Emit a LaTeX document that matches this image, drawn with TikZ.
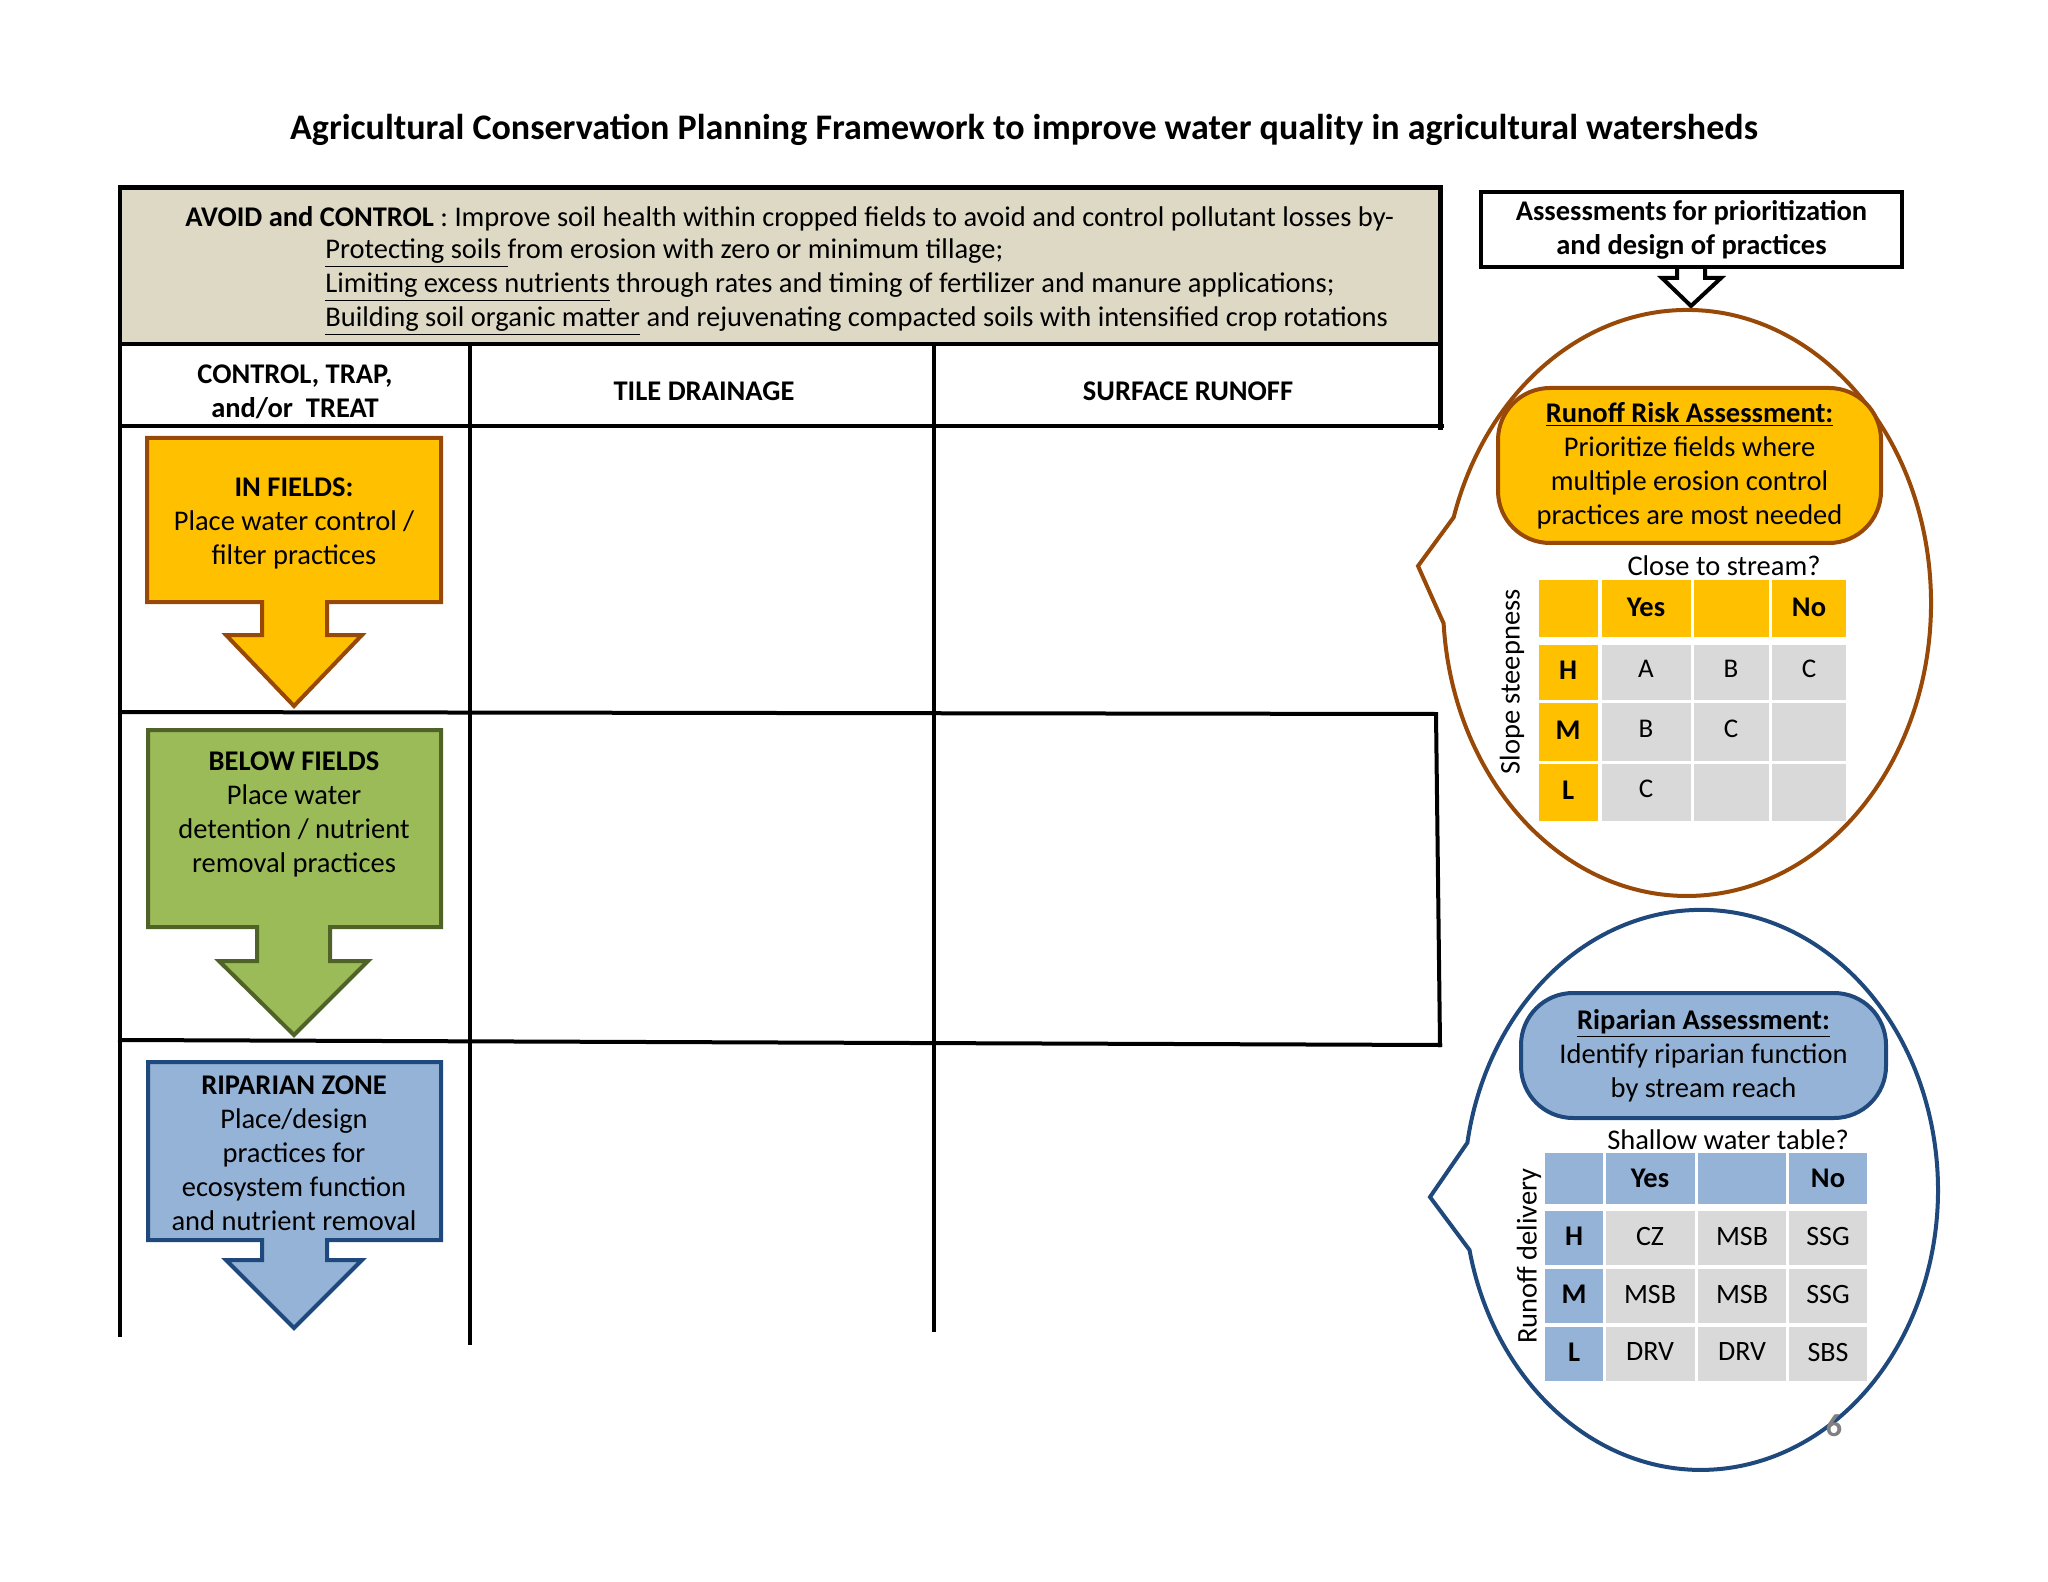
\documentclass[tikz,border=0pt]{standalone}
\usepackage{fontspec}
\setmainfont{Carlito}
\usepackage{tikz}
\usetikzlibrary{positioning}

\definecolor{goldfill}{HTML}{FFC000}
\definecolor{golddraw}{HTML}{984807}
\definecolor{greenfill}{HTML}{9BBB59}
\definecolor{greendraw}{HTML}{4F6228}
\definecolor{bluefill}{HTML}{95B3D7}
\definecolor{bluedraw}{HTML}{1F497D}
\definecolor{bandfill}{HTML}{DDD9C4}
\definecolor{cellgray}{HTML}{D9D9D9}

\begin{document}
\begin{tikzpicture}[
x=0.5pt, y=-0.5pt,
    T/.style = {font=\fontsize{14.25}{17}\selectfont, align=center, inner sep=0pt},% plain text
    B/.style = {T, font=\fontsize{14.25}{17}\selectfont\bfseries},% bold text
    L/.style = {T, anchor=west},% left aligned line in the band
    C/.style = {T, font=\fontsize{13.5}{15}\selectfont},% table cells
    grid/.style = {line width=2pt, line cap=rect},
    arrowbox/.style = {line width=2pt, line join=miter},
    bubble/.style = {line width=2pt, line join=miter},
    pill/.style = {draw, line width=2pt, rounded corners=26pt, align=center,
                   inner sep=0pt, font=\fontsize{14.25}{17}\selectfont},
                        ]
\useasboundingbox (0,0) rectangle (2048,1582);
\node[T, font=\fontsize{18}{21}\selectfont\bfseries] (title) at (1024,130)
  {Agricultural Conservation Planning Framework to improve water quality in agricultural watersheds};

% avoid and control band
\fill[bandfill] (120,188) rectangle (1440,344);
\node[L] (band1) at (185,219)
  {\textbf{AVOID and CONTROL} : Improve soil health within cropped fields to avoid and control pollutant losses by-};
\node[L] (band2) at (325,253) {\underline{Protecting soils }from erosion with zero or minimum tillage;};
\node[L] (band3) at (325,287) {\underline{Limiting excess nutrients} through rates and timing of fertilizer and manure applications;};
\node[L] (band4) at (325,321) {\underline{Building soil organic matter} and rejuvenating compacted soils with intensified crop rotations};

% table lines
\draw[grid, line width=2.5pt] (120,188) -- (1440,188) -- (1440,428);
\draw[grid] (120,188) -- (120,1335);
\draw[grid] (120,344) -- (1440,344);
\draw[grid] (120,426) -- (1442,426);
\draw[grid] (470,344) -- (470,1343);
\draw[grid] (934,344) -- (934,1330);
\draw[grid] (120,712) -- (1436,714) -- (1440,1045);
\draw[grid] (120,1040) -- (1440,1045);

\node[B] (hdctrl) at (295,392) {CONTROL, TRAP,\\and/or\ \ TREAT};
\node[B] (hdtile) at (704,391) {TILE DRAINAGE};
\node[B] (hdsurf) at (1188,391) {SURFACE RUNOFF};

% block arrows
\draw[arrowbox, fill=goldfill, draw=golddraw] (147,438) -- (441,438) -- (441,602) -- (327,602)
  -- (327,635) -- (362,635) -- (294,706) -- (226,635) -- (262,635) -- (262,602) -- (147,602) -- cycle;
\node[T] (infields) at (294,523) {\textbf{IN FIELDS:}\\Place water control /\\filter practices};

\draw[arrowbox, fill=greenfill, draw=greendraw] (148,730) -- (441,730) -- (441,927) -- (330,927)
  -- (330,961) -- (368,961) -- (294,1035) -- (219,961) -- (257,961) -- (257,927) -- (148,927) -- cycle;
\node[T] (belowfields) at (294,814) {\textbf{BELOW FIELDS}\\Place water\\detention / nutrient\\removal practices};

\draw[arrowbox, fill=bluefill, draw=bluedraw] (148,1062) -- (441,1062) -- (441,1240) -- (327,1240)
  -- (327,1260) -- (362,1260) -- (294,1328) -- (226,1260) -- (262,1260) -- (262,1240) -- (148,1240) -- cycle;
\node[T] (riparianzone) at (294,1153) {\textbf{RIPARIAN ZONE}\\Place/design\\practices for\\ecosystem function\\and nutrient removal};

% assessments header
\node[B, draw, line width=2pt, minimum width=210.5pt, minimum height=37.5pt] (assess) at (1691.5,230)
  {Assessments for prioritization\\and design of practices};
\draw[line width=2pt, line join=miter] (1677,266) -- (1677,278) -- (1662,278) -- (1691,306)
  -- (1721,278) -- (1705,278) -- (1705,266);

% runoff risk bubble
\draw[bubble, draw=golddraw] (1418,566) -- (1443.6,623.4)
  arc[start angle=176, end angle=-163, x radius=244, y radius=293] -- cycle;
\node[pill, fill=goldfill, draw=golddraw, minimum width=191.5pt, minimum height=77.5pt] (riskbox) at (1689.5,465.5)
  {\textbf{\underline{Runoff Risk Assessment:}}\\Prioritize fields where\\multiple erosion control\\practices are most needed};
\node[T] (closeq) at (1724,566) {Close to stream?};
\node[T, rotate=90] (slope) at (1512,682) {Slope steepness};
\foreach \xa/\xb in {1539/1598,1602/1691,1694/1769,1772/1846}% <-- header row
  \fill[goldfill] (\xa,580) rectangle (\xb,637);
\foreach \ya/\yb in {645/700,703/761,764/821} {
  \fill[goldfill] (1539,\ya) rectangle (1598,\yb);
  \foreach \xa/\xb in {1602/1691,1694/1769,1772/1846}
    \fill[cellgray] (\xa,\ya) rectangle (\xb,\yb);
}
\foreach \t/\x/\y [count=\i] in {Yes/1646/607, No/1809/607, H/1568/670, M/1568/730, L/1568/790}
  \node[B] (risk-h\i) at (\x,\y) {\t};
\foreach \t/\x/\y [count=\i] in {A/1646/669, B/1731/669, C/1809/669, B/1646/729, C/1731/729, C/1646/789}
  \node[C] (risk-c\i) at (\x,\y) {\t};

% riparian bubble
\draw[bubble, draw=bluedraw] (1430,1197) -- (1469.5,1250)
  arc[start angle=167.6, end angle=-170.3, x radius=237, y radius=280] -- cycle;
\node[pill, fill=bluefill, draw=bluedraw, minimum width=182.5pt, minimum height=62.5pt] (ripbox) at (1703.5,1055.5)
  {\textbf{\underline{Riparian Assessment:}}\\Identify riparian function\\by stream reach};
\node[T] (shallowq) at (1728,1140) {Shallow water table?};
\node[T, rotate=90] (delivery) at (1529,1256) {Runoff delivery};
\foreach \xa/\xb in {1545/1603,1606/1695,1698/1786,1789/1867}% <-- header row
  \fill[bluefill] (\xa,1153) rectangle (\xb,1204);
\foreach \ya/\yb in {1211/1265,1269/1323,1327/1381} {
  \fill[bluefill] (1545,\ya) rectangle (1603,\yb);
  \foreach \xa/\xb in {1606/1695,1698/1786,1789/1867}
    \fill[cellgray] (\xa,\ya) rectangle (\xb,\yb);
}
\foreach \t/\x/\y [count=\i] in {Yes/1650/1178, No/1828/1178, H/1574/1236, M/1574/1294, L/1574/1352}
  \node[B] (rip-h\i) at (\x,\y) {\t};
\foreach \t/\x/\y [count=\i] in {CZ/1650/1236, MSB/1742/1236, SSG/1828/1236, MSB/1650/1294, MSB/1742/1294,
    SSG/1828/1294, DRV/1650/1352, DRV/1742/1352, SBS/1828/1352}
  \node[C, font=\fontsize{14}{15}\selectfont] (rip-c\i) at (\x,\y) {\t};
\node[T, text=gray, font=\fontsize{16}{17}\selectfont\bfseries] (pagenum) at (1834,1426) {6};
\end{tikzpicture}
\end{document}
